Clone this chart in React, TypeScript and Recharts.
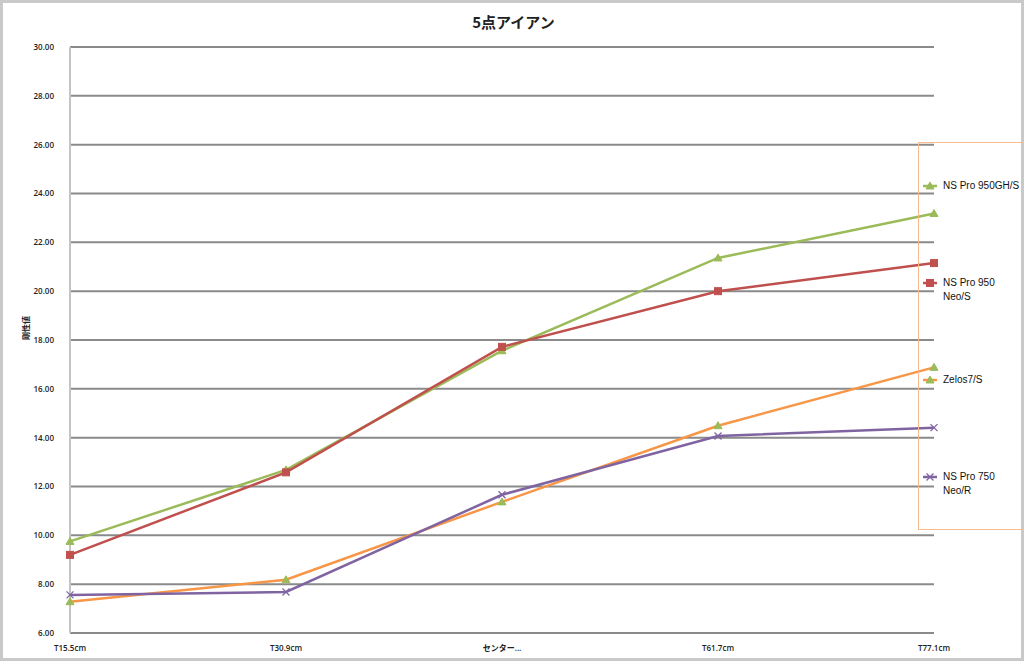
import React from 'react';
import { LineChart, Line, XAxis, YAxis, CartesianGrid, Label } from 'recharts';

const categories = ['T15.5cm', 'T30.9cm', 'センター...', 'T61.7cm', 'T77.1cm'];
const ns950gh = [9.75, 12.68, 17.56, 21.36, 23.18];
const ns950neo = [9.2, 12.58, 17.72, 20.0, 21.15];
const zelos7 = [7.28, 8.18, 11.37, 14.49, 16.88];
const ns750neo = [7.56, 7.68, 11.66, 14.07, 14.41];
const yTicks = [6, 8, 10, 12, 14, 16, 18, 20, 22, 24, 26, 28, 30];

const GREEN = '#9bbb59';
const RED = '#c0504d';
const ORANGE = '#f79646';
const PURPLE = '#8064a2';

const data = categories.map((name, i) => ({
  name,
  gh: ns950gh[i],
  neoS: ns950neo[i],
  zelos: zelos7[i],
  neoR: ns750neo[i],
}));

const Marker = ({ shape, fill, stroke, cx, cy }: any) => {
  if (cx == null || cy == null) return null;
  if (shape === 'triangle') {
    return (
      <path
        d={`M${cx},${cy - 4} L${cx + 4},${cy + 3} L${cx - 4},${cy + 3} Z`}
        fill={fill}
        stroke={stroke}
        strokeWidth={1}
      />
    );
  }
  if (shape === 'square') {
    return <rect x={cx - 3.5} y={cy - 3.5} width={7} height={7} fill={fill} stroke={stroke} strokeWidth={1} />;
  }
  return (
    <path
      d={`M${cx - 3.5},${cy - 3.5} L${cx + 3.5},${cy + 3.5} M${cx + 3.5},${cy - 3.5} L${cx - 3.5},${cy + 3.5}`}
      stroke={stroke}
      strokeWidth={1.3}
      fill="none"
    />
  );
};

const series = [
  { key: 'gh', label: ['NS Pro 950GH/S'], color: GREEN, shape: 'triangle', fill: GREEN },
  { key: 'neoS', label: ['NS Pro 950', 'Neo/S'], color: RED, shape: 'square', fill: RED },
  { key: 'zelos', label: ['Zelos7/S'], color: ORANGE, shape: 'triangle', fill: GREEN },
  { key: 'neoR', label: ['NS Pro 750', 'Neo/R'], color: PURPLE, shape: 'x', fill: PURPLE },
];

const LegendBox = () => (
  <div
    style={{
      position: 'absolute',
      left: 915,
      top: 139,
      width: 110,
      height: 388,
      border: '1px solid #f9b98a',
      boxSizing: 'border-box',
      fontFamily: '"Liberation Sans", Arial, sans-serif',
      fontSize: 10,
      color: '#111',
    }}
  >
    {series.map((s) => (
      <div key={s.key} style={{ height: 97, boxSizing: 'border-box', paddingTop: 36, display: 'flex' }}>
        <svg width={24} height={14} style={{ flex: 'none' }}>
          <line x1={4} y1={7} x2={18} y2={7} stroke={s.color} strokeWidth={2.5} />
          <Marker shape={s.shape} fill={s.fill} stroke={s.shape === 'triangle' ? s.fill : s.color} cx={11} cy={7} />
        </svg>
        <div style={{ lineHeight: '14px' }}>
          {s.label.map((l) => (
            <div key={l}>{l}</div>
          ))}
        </div>
      </div>
    ))}
  </div>
);

export default function App() {
  return (
    <div
      style={{
        position: 'fixed',
        left: 0,
        top: 0,
        width: 1024,
        height: 661,
        border: '3px solid #c9c9c9',
        boxSizing: 'border-box',
        background: '#fff',
      }}
    >
      <div
        style={{
          position: 'absolute',
          left: 0,
          top: 8,
          width: 1021,
          textAlign: 'center',
          fontFamily: '"Noto Sans CJK JP", sans-serif',
          fontWeight: 700,
          fontSize: 15,
          color: '#222',
        }}
      >
        5点アイアン
      </div>
      <div style={{ position: 'absolute', left: -3, top: -3 }}>
        <LineChart width={1024} height={661} data={data} margin={{ top: 47, right: 90, left: 10, bottom: 0 }}>
          <CartesianGrid vertical={false} stroke="#8a8a8a" strokeWidth={2} />
          <XAxis
            dataKey="name"
            height={28}
            axisLine={{ stroke: '#8a8a8a', strokeWidth: 2 }}
            tickLine={false}
            interval={0}
            tickMargin={6}
            tick={{ fill: '#222', fontSize: 8, fontWeight: 600, fontFamily: '"Open Sans", "Noto Sans CJK JP", sans-serif' }}
          />
          <YAxis
            width={60}
            domain={[6, 30]}
            ticks={yTicks}
            allowDataOverflow
            tickFormatter={(v: number) => v.toFixed(2)}
            axisLine={{ stroke: '#c4c4c4', strokeWidth: 2 }}
            tickLine={false}
            tickMargin={10}
            tick={{ fill: '#222', fontSize: 8, fontWeight: 600, fontFamily: '"Open Sans", sans-serif' }}
          >
            <Label
              value="剛性値"
              angle={-90}
              position="insideLeft"
              offset={16}
              style={{ fontSize: 8, fontWeight: 700, fill: '#222', fontFamily: '"Noto Sans CJK JP", sans-serif' }}
            />
          </YAxis>
          {series.map((s) => (
            <Line
              key={s.key}
              dataKey={s.key}
              name={s.label.join(' ')}
              stroke={s.color}
              strokeWidth={2.5}
              isAnimationActive={false}
              dot={(p: any) => (
                <Marker
                  key={`${s.key}-${p.index}`}
                  shape={s.shape}
                  fill={s.fill}
                  stroke={s.shape === 'triangle' ? s.fill : s.color}
                  cx={p.cx}
                  cy={p.cy}
                />
              )}
              activeDot={false}
            />
          ))}
        </LineChart>
      </div>
      <LegendBox />
    </div>
  );
}
